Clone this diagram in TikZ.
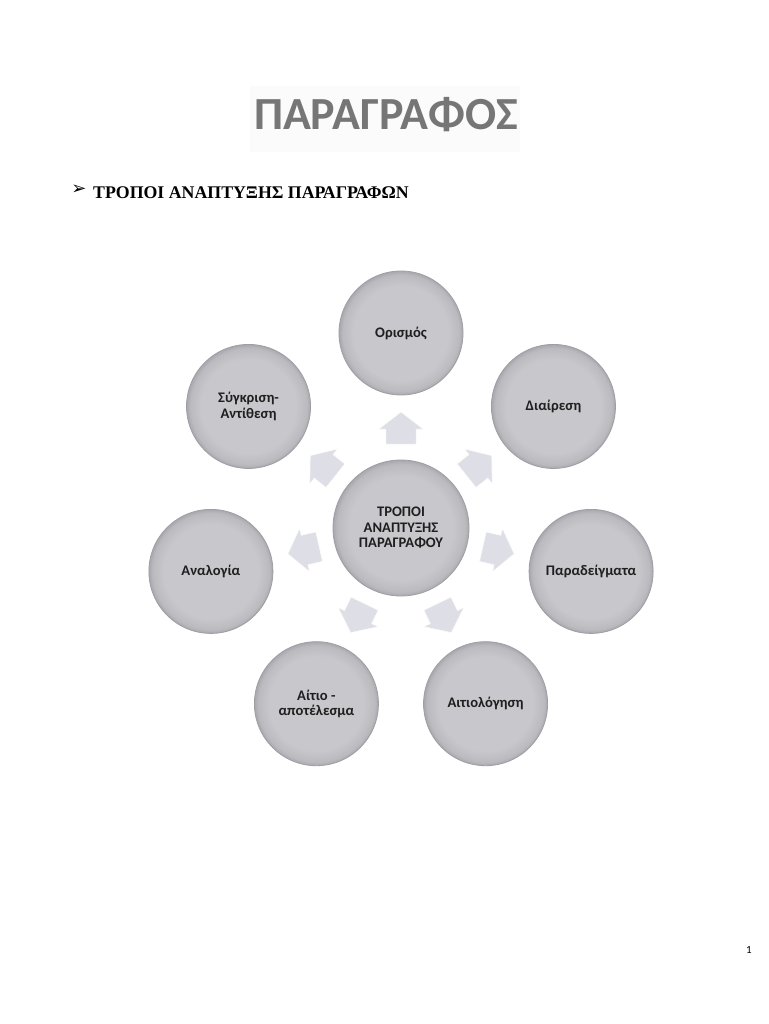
\documentclass[tikz,border=0pt]{standalone}
\usepackage{fontspec}
\setmainfont{Carlito}
\newfontfamily\timesfont{Liberation Serif}
\newfontfamily\dejavu{DejaVu Sans}
\usetikzlibrary{calc}
\definecolor{bubin}{RGB}{199,199,204}
\definecolor{bubmid}{RGB}{186,186,191}
\definecolor{bubout}{RGB}{168,168,174}
\definecolor{bubring}{RGB}{158,158,164}
\definecolor{arrowgray}{RGB}{222,223,230}
\definecolor{titlegray}{RGB}{118,118,118}
\definecolor{titlebg}{RGB}{251,251,251}
\pgfdeclareradialshading{bubshade}{\pgfpointorigin}{color(0bp)=(bubin); color(19bp)=(bubin); color(23.5bp)=(bubmid); color(25bp)=(bubout); color(50bp)=(bubout)}
\tikzset{
  bubble/.style={circle, minimum size=124pt, inner sep=0pt, shading=bubshade,
    draw=bubring, line width=0.8pt, align=center, text=black!88,
    font=\bfseries\fontsize{14.6}{15.5}\selectfont},
  hub/.style={bubble, minimum size=136pt},
  blockarrow/.style={fill=arrowgray, draw=white!90!arrowgray, line width=0.4pt},
}
\begin{document}
\begin{tikzpicture}[x=1pt,y=1pt]
\useasboundingbox (0,-1024) rectangle (768,0);
\fill[white] (0,-1024) rectangle (768,0);
% title
\fill[titlebg] (250,-86) rectangle (520,-152);
\node[text=titlegray, font=\bfseries\fontsize{46}{52}\selectfont] (title) at (386,-115) {ΠΑΡΑΓΡΑΦΟΣ};
% heading
\node[font=\dejavu\fontsize{18}{20}\selectfont, inner sep=0pt] (bullet) at (79,-190) {➢};
\node[anchor=west, font=\timesfont\bfseries\fontsize{17.8}{21}\selectfont, inner sep=0pt] (heading) at (93,-193) {ΤΡΟΠΟΙ ΑΝΑΠΤΥΞΗΣ ΠΑΡΑΓΡΑΦΩΝ};
% diagram
\coordinate (C) at (401,-528);
\node[hub] (c) at (C) {ΤΡΟΠΟΙ\\ΑΝΑΠΤΥΞΗΣ\\ΠΑΡΑΓΡΑΦΟΥ};
\foreach \a in {90,38.57,-12.86,-64.29,-115.71,-167.14,141.43}{
  \filldraw[blockarrow, shift={(C)}, rotate=\a]
    (84,-15) -- (99,-15) -- (99,-22) -- (116,0) -- (99,22) -- (99,15) -- (84,15) -- cycle;
}
\node[bubble] (o1) at ($(C)+(90:195)$) {Ορισμός};
\node[bubble] (o2) at ($(C)+(38.57:195)$) {Διαίρεση};
\node[bubble] (o3) at ($(C)+(-12.86:195)$) {Παραδείγματα};
\node[bubble] (o4) at ($(C)+(-64.29:195)$) {Αιτιολόγηση};
\node[bubble] (o5) at ($(C)+(-115.71:195)$) {Αίτιο -\\αποτέλεσμα};
\node[bubble] (o6) at ($(C)+(-167.14:195)$) {Αναλογία};
\node[bubble] (o7) at ($(C)+(141.43:195)$) {Σύγκριση-\\Αντίθεση};
% page number
\node[font=\fontsize{11}{13}\selectfont] (page) at (749,-950) {1};
\end{tikzpicture}
\end{document}
